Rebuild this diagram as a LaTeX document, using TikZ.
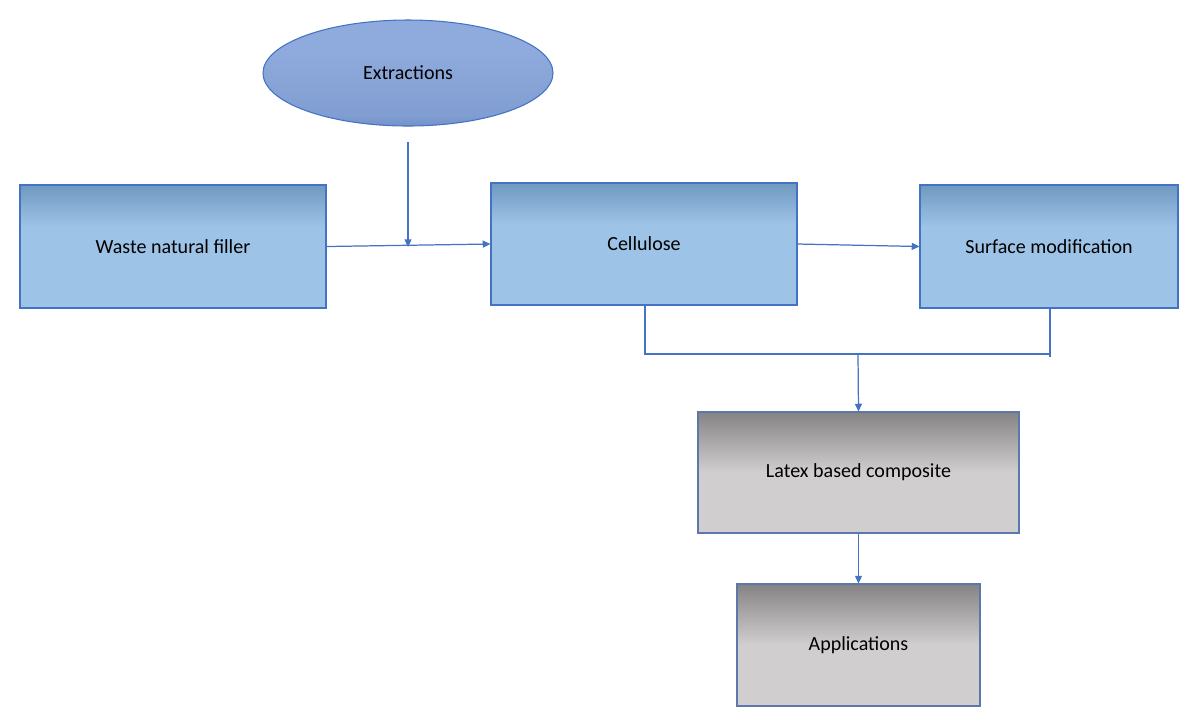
\documentclass[tikz,border=0pt]{standalone}
\usepackage{fontspec}
\setmainfont{Carlito}
\usetikzlibrary{shapes.geometric,arrows.meta}
\definecolor{lb}{HTML}{9DC3E6}
\definecolor{db}{HTML}{2E5C8A}
\definecolor{el}{HTML}{8FAADC}
\definecolor{ed}{HTML}{2F5597}
\definecolor{lg}{HTML}{D0CECE}
\definecolor{dg}{HTML}{3A3838}
\definecolor{ln}{HTML}{4472C4}
\pgfdeclareverticalshading{bluebox}{100bp}{color(0bp)=(lb); color(58bp)=(lb); color(100bp)=(db)}
\pgfdeclareverticalshading{greybox}{100bp}{color(0bp)=(lg); color(50bp)=(lg); color(100bp)=(dg)}
\pgfdeclareverticalshading{ellsh}{100bp}{color(0bp)=(ed); color(30bp)=(el!85!ed); color(60bp)=(el); color(100bp)=(el)}
\begin{document}
\begin{tikzpicture}[x=0.01cm,y=-0.01cm,
  txt/.style={font=\fontsize{5.7}{7}\selectfont, text=black},
  bb/.style={draw=ln, line width=0.3pt, shading=bluebox, inner sep=0pt, txt},
  gb/.style={draw=ln!60!gray, line width=0.3pt, shading=greybox, inner sep=0pt, txt},
  con/.style={draw=ln, line width=0.35pt},
  arr/.style={con, -{Triangle[length=2.2pt,width=2pt]}}]
\useasboundingbox (0,0) rectangle (1191,720);
\node[bb, minimum width=306*0.01cm, minimum height=123*0.01cm] (waste) at (173,246.5) {Waste natural filler};
\node[bb, minimum width=306*0.01cm, minimum height=122*0.01cm] (cell) at (644,244) {Cellulose};
\node[bb, minimum width=258*0.01cm, minimum height=123*0.01cm] (surf) at (1049,246.5) {Surface modification};
\node[ellipse, draw=ln, line width=0.3pt, shading=ellsh, minimum width=290*0.01cm, minimum height=106*0.01cm, inner sep=0pt, txt] (ext) at (408,73) {Extractions};
\node[gb, minimum width=321*0.01cm, minimum height=121*0.01cm] (latex) at (858.5,472.5) {Latex based composite};
\node[gb, minimum width=243*0.01cm, minimum height=122*0.01cm] (app) at (858.5,645) {Applications};
\coordinate (e1) at (408,142);
\coordinate (e2) at (408,247);
\coordinate (c1) at (645,354);
\coordinate (s1) at (1050,354);
\coordinate (s2) at (1050,357);
\coordinate (m) at (858,354);
\draw[arr] (waste.east) -- (cell.west);
\draw[arr] (e1) -- (e2);
\draw[arr] (cell.east) -- (surf.west);
\draw[con] (cell.south -| c1) -- (c1) -- (s1);
\draw[con] (surf.south -| s1) -- (s2);
\draw[arr] (m) -- (latex.north);
\draw[arr] (latex.south) -- (app.north);
\end{tikzpicture}
\end{document}
